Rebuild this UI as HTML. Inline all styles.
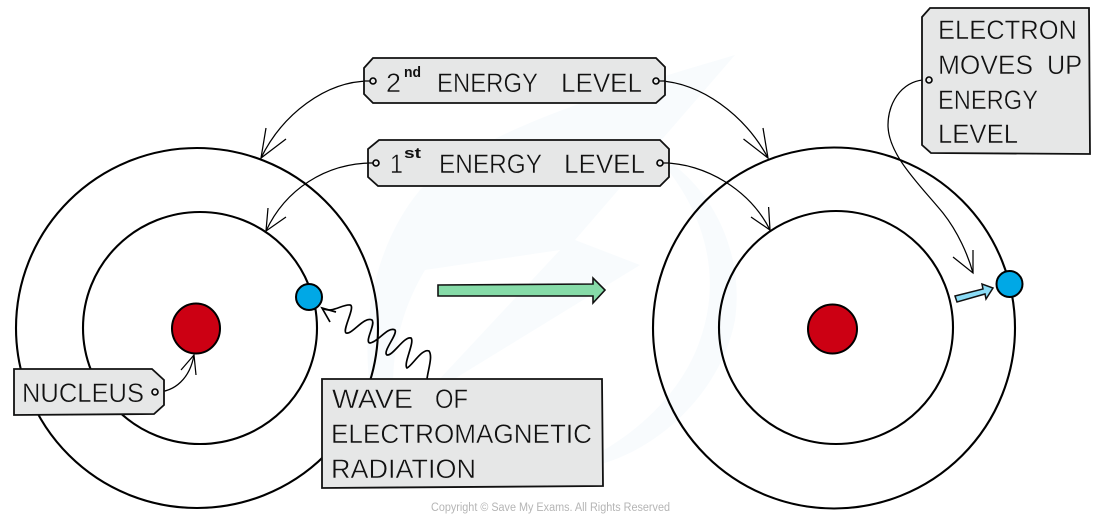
<!DOCTYPE html>
<html>
<head>
<meta charset="utf-8">
<style>
html,body{margin:0;padding:0;background:#fff}
svg{display:block}
text{font-family:"Liberation Sans","DejaVu Sans",sans-serif;fill:#111}
.l{font-size:27px;stroke:#e6e7e7;stroke-width:.45px}
.o{fill:none;stroke:#000;stroke-width:2.1}
.a{fill:none;stroke:#000;stroke-width:1.25}
.b{fill:#e6e7e7;stroke:#111;stroke-width:1.8}
.d{fill:#e6e7e7;stroke:#000;stroke-width:1.6}
</style>
</head>
<body>
<svg width="1100" height="518" viewBox="0 0 1100 518" xmlns="http://www.w3.org/2000/svg">
<rect width="1100" height="518" fill="#fff"/>
<!-- watermark -->
<path d="M735 55 C600 95 480 130 420 190 C370 250 350 350 385 450 L400 440 C385 380 395 320 425 270 L560 250 L420 400 L640 265 L575 240 Z" fill="#f8fbfd"/>
<path d="M650 150 C700 200 725 270 700 340 C680 400 620 450 560 470 C640 470 720 400 735 320 C745 250 710 180 650 150Z" fill="#f8fbfd"/>

<!-- left atom -->
<ellipse class="o" cx="197" cy="328" rx="181" ry="180"/>
<ellipse class="o" cx="200" cy="328" rx="117" ry="116"/>
<ellipse cx="196" cy="328.5" rx="24" ry="25" fill="#cc0013" stroke="#000" stroke-width="2"/>
<circle cx="309" cy="297" r="13" fill="#00a8e6" stroke="#000" stroke-width="2"/>

<!-- right atom -->
<ellipse class="o" cx="834" cy="328" rx="181" ry="180.5"/>
<ellipse class="o" cx="836" cy="327.5" rx="117" ry="116.5"/>
<circle cx="832.5" cy="329" r="24.5" fill="#cc0013" stroke="#000" stroke-width="2"/>
<circle cx="1009.5" cy="284" r="13" fill="#00a8e6" stroke="#000" stroke-width="2"/>

<!-- connectors -->
<path class="a" d="M370 81 C325 81 282 115 261 158"/>
<path class="a" d="M266 128 L261 158 L286 139"/>
<path class="a" d="M373 163 C325 163 285 190 266 231"/>
<path class="a" d="M268 208 L266 231 L286 217"/>
<path class="a" d="M659 81 C700 82 745 115 768 158"/>
<path class="a" d="M763 128 L768 158 L743.5 139"/>
<path class="a" d="M663 163 C705 163 750 190 770 230"/>
<path class="a" d="M768.6 207 L770 230 L751 217"/>
<path class="a" d="M929 80 C905 78 888 100 888 125 C888 155 920 185 943 213 C958 232 968 255 973 273"/>
<path class="a" d="M953 257 L973 273 L973 250"/>
<path class="a" d="M156 392 C175 392 190 378 194 355"/>
<path class="a" d="M181 370 L194 355 L196 375"/>

<!-- wave -->
<path d="M322 308 C332 314 342 304 350 305 C356 306 342 330 346 333 C352 335 364 316 372 320 C376 324 364 342 370 343 C378 342 388 326 395 330 C398 334 382 352 387 355 C393 356 404 336 411 338 C415 342 403 364 407 368 C412 366 422 348 429 351 C433 356 428 370 427 379" fill="none" stroke="#000" stroke-width="1.7"/>
<path d="M330 322 L322 308 L336 312" fill="none" stroke="#000" stroke-width="1.7"/>

<!-- big arrow -->
<path d="M438 285 L593 284 L593 278 L605 290 L593 303 L593 296 L438 296 Z" fill="#86dba8" stroke="#111" stroke-width="1.6"/>
<!-- small arrow -->
<path d="M955 296 L983 289 L982 284 L993 288 L986 299 L985 294 L957 302 Z" fill="#8bdcf6" stroke="#111" stroke-width="1.5"/>

<!-- 2nd energy level -->
<path class="b" d="M373 58 L656 58 L665 67 L665 95 L656 103 L373 103 L364 94 L364 68 Z"/>
<path d="M364 81 L370 81 M659 81 L665 81" stroke="#000" stroke-width="1.2"/>
<circle class="d" cx="373" cy="81" r="3"/>
<circle class="d" cx="656" cy="81" r="3"/>
<text class="l" x="386" y="92" textLength="15" lengthAdjust="spacingAndGlyphs">2</text>
<text x="404" y="77" font-size="15" font-weight="bold" textLength="17" lengthAdjust="spacingAndGlyphs">nd</text>
<text class="l" x="437" y="92" textLength="101" lengthAdjust="spacingAndGlyphs">ENERGY</text>
<text class="l" x="561" y="92" textLength="81" lengthAdjust="spacingAndGlyphs">LEVEL</text>

<!-- 1st energy level -->
<path class="b" d="M379 140 L660 140 L669 149 L669 177 L660 186 L378 186 L368 177 L368 149 Z"/>
<path d="M368 163 L373 163 M663 163 L669 163" stroke="#000" stroke-width="1.2"/>
<circle class="d" cx="376" cy="163" r="3"/>
<circle class="d" cx="660" cy="163" r="3"/>
<text class="l" x="390" y="173" textLength="13" lengthAdjust="spacingAndGlyphs">1</text>
<text x="404" y="158" font-size="15" font-weight="bold" textLength="17" lengthAdjust="spacingAndGlyphs">st</text>
<text class="l" x="439" y="173" textLength="103" lengthAdjust="spacingAndGlyphs">ENERGY</text>
<text class="l" x="564" y="173" textLength="81" lengthAdjust="spacingAndGlyphs">LEVEL</text>

<!-- nucleus -->
<path class="b" d="M14 369 L152 369 L164 380 L164 405 L154 414 L14 415 Z"/>
<circle class="d" cx="155" cy="392" r="3"/>
<text class="l" x="22" y="402" textLength="122" lengthAdjust="spacingAndGlyphs">NUCLEUS</text>

<!-- wave label -->
<path class="b" d="M322 379 L602 379 L603 486 L322 488 Z"/>
<text class="l" x="332" y="408" textLength="81" lengthAdjust="spacingAndGlyphs">WAVE</text>
<text class="l" x="435" y="408" textLength="33" lengthAdjust="spacingAndGlyphs">OF</text>
<text class="l" x="331" y="443" textLength="261" lengthAdjust="spacingAndGlyphs">ELECTROMAGNETIC</text>
<text class="l" x="331" y="478" textLength="145" lengthAdjust="spacingAndGlyphs">RADIATION</text>

<!-- electron label -->
<path class="b" d="M930 8 L1089 8 L1090 154 L931 153 L922 145 L922 17 Z"/>
<circle class="d" cx="929" cy="80" r="3"/>
<text class="l" x="938" y="39" textLength="139" lengthAdjust="spacingAndGlyphs">ELECTRON</text>
<text class="l" x="938" y="74" textLength="95" lengthAdjust="spacingAndGlyphs">MOVES</text>
<text class="l" x="1047" y="74" textLength="35" lengthAdjust="spacingAndGlyphs">UP</text>
<text class="l" x="938" y="109" textLength="100" lengthAdjust="spacingAndGlyphs">ENERGY</text>
<text class="l" x="938" y="143" textLength="80" lengthAdjust="spacingAndGlyphs">LEVEL</text>

<text x="431" y="511" font-size="11.5" textLength="239" lengthAdjust="spacingAndGlyphs" style="fill:#b5b5b5">Copyright © Save My Exams. All Rights Reserved</text>
</svg>
</body>
</html>
